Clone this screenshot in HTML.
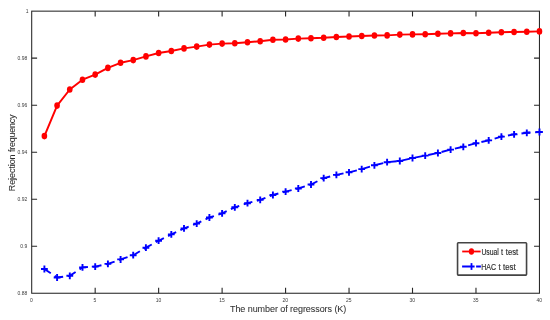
<!DOCTYPE html><html><head><meta charset="utf-8"><title>plot</title>
<style>html,body{margin:0;padding:0;background:#fff}svg{display:block}text{font-family:"Liberation Sans",sans-serif;fill:#3a3a3a}</style></head><body>
<svg width="550" height="320" viewBox="0 0 550 320">
<rect width="550" height="320" fill="#fff"/>
<rect x="31.70" y="11.15" width="507.75" height="282.10" fill="none" stroke="#262626" stroke-width="1.05"/>
<path d="M95.17 293.25v-5.4M95.17 11.15v5.4M158.64 293.25v-5.4M158.64 11.15v5.4M222.11 293.25v-5.4M222.11 11.15v5.4M285.58 293.25v-5.4M285.58 11.15v5.4M349.04 293.25v-5.4M349.04 11.15v5.4M412.51 293.25v-5.4M412.51 11.15v5.4M475.98 293.25v-5.4M475.98 11.15v5.4M31.70 58.17h5.4M539.45 58.17h-5.4M31.70 105.18h5.4M539.45 105.18h-5.4M31.70 152.20h5.4M539.45 152.20h-5.4M31.70 199.22h5.4M539.45 199.22h-5.4M31.70 246.23h5.4M539.45 246.23h-5.4" stroke="#262626" stroke-width="1.1" fill="none"/>
<g font-size="5" style="fill:#262626">
<text transform="translate(31.50 301.9) scale(1 1.12)" text-anchor="middle">0</text>
<text transform="translate(94.97 301.9) scale(1 1.12)" text-anchor="middle">5</text>
<text transform="translate(158.44 301.9) scale(1 1.12)" text-anchor="middle">10</text>
<text transform="translate(221.91 301.9) scale(1 1.12)" text-anchor="middle">15</text>
<text transform="translate(285.38 301.9) scale(1 1.12)" text-anchor="middle">20</text>
<text transform="translate(348.84 301.9) scale(1 1.12)" text-anchor="middle">25</text>
<text transform="translate(412.31 301.9) scale(1 1.12)" text-anchor="middle">30</text>
<text transform="translate(475.78 301.9) scale(1 1.12)" text-anchor="middle">35</text>
<text transform="translate(539.25 301.9) scale(1 1.12)" text-anchor="middle">40</text>
<text transform="translate(28.5 13.10) scale(1 1.12)" text-anchor="end">1</text>
<text transform="translate(27.3 60.12) scale(1 1.12)" text-anchor="end">0.98</text>
<text transform="translate(27.3 107.13) scale(1 1.12)" text-anchor="end">0.96</text>
<text transform="translate(27.3 154.15) scale(1 1.12)" text-anchor="end">0.94</text>
<text transform="translate(27.3 201.17) scale(1 1.12)" text-anchor="end">0.92</text>
<text transform="translate(27.3 248.18) scale(1 1.12)" text-anchor="end">0.9</text>
<text transform="translate(27.3 295.20) scale(1 1.12)" text-anchor="end">0.88</text>
</g>
<text x="288.1" y="312.05" font-size="9" style="fill:#303030;stroke:#303030;stroke-width:0.05px" text-anchor="middle" textLength="116.3" lengthAdjust="spacing">The number of regressors (K)</text>
<text transform="translate(14.8 191.2) rotate(-90)" font-size="9" style="fill:#303030;stroke:#303030;stroke-width:0.05px" lengthAdjust="spacing" textLength="36.8">Rejection</text>
<text transform="translate(14.8 152.0) rotate(-90)" font-size="9" style="fill:#303030;stroke:#303030;stroke-width:0.05px" lengthAdjust="spacing" textLength="37.5">frequency</text>
<polyline points="44.39,136.1 57.09,105.6 69.78,89.5 82.48,79.7 95.17,74.6 107.86,67.9 120.56,62.8 133.25,60.1 145.94,56.4 158.64,53.0 171.33,51.0 184.03,48.4 196.72,46.6 209.41,44.6 222.11,43.6 234.80,43.2 247.49,42.2 260.19,41.2 272.88,39.8 285.58,39.5 298.27,38.6 310.96,38.2 323.66,37.8 336.35,37.0 349.04,36.5 361.74,36.0 374.43,35.5 387.13,35.4 399.82,34.6 412.51,34.4 425.21,34.2 437.90,33.8 450.59,33.4 463.29,33.0 475.98,33.2 488.68,32.8 501.37,32.2 514.06,32.0 526.76,31.8 539.45,31.4" fill="none" stroke="#ff0000" stroke-width="1.95" stroke-linejoin="round"/>
<g fill="#ff0000">
<ellipse cx="44.39" cy="136.1" rx="2.8" ry="3.3"/>
<ellipse cx="57.09" cy="105.6" rx="2.8" ry="3.3"/>
<ellipse cx="69.78" cy="89.5" rx="2.8" ry="3.3"/>
<ellipse cx="82.48" cy="79.7" rx="2.8" ry="3.3"/>
<ellipse cx="95.17" cy="74.6" rx="2.8" ry="3.3"/>
<ellipse cx="107.86" cy="67.9" rx="2.8" ry="3.3"/>
<ellipse cx="120.56" cy="62.8" rx="2.8" ry="3.3"/>
<ellipse cx="133.25" cy="60.1" rx="2.8" ry="3.3"/>
<ellipse cx="145.94" cy="56.4" rx="2.8" ry="3.3"/>
<ellipse cx="158.64" cy="53.0" rx="2.8" ry="3.3"/>
<ellipse cx="171.33" cy="51.0" rx="2.8" ry="3.3"/>
<ellipse cx="184.03" cy="48.4" rx="2.8" ry="3.3"/>
<ellipse cx="196.72" cy="46.6" rx="2.8" ry="3.3"/>
<ellipse cx="209.41" cy="44.6" rx="2.8" ry="3.3"/>
<ellipse cx="222.11" cy="43.6" rx="2.8" ry="3.3"/>
<ellipse cx="234.80" cy="43.2" rx="2.8" ry="3.3"/>
<ellipse cx="247.49" cy="42.2" rx="2.8" ry="3.3"/>
<ellipse cx="260.19" cy="41.2" rx="2.8" ry="3.3"/>
<ellipse cx="272.88" cy="39.8" rx="2.8" ry="3.3"/>
<ellipse cx="285.58" cy="39.5" rx="2.8" ry="3.3"/>
<ellipse cx="298.27" cy="38.6" rx="2.8" ry="3.3"/>
<ellipse cx="310.96" cy="38.2" rx="2.8" ry="3.3"/>
<ellipse cx="323.66" cy="37.8" rx="2.8" ry="3.3"/>
<ellipse cx="336.35" cy="37.0" rx="2.8" ry="3.3"/>
<ellipse cx="349.04" cy="36.5" rx="2.8" ry="3.3"/>
<ellipse cx="361.74" cy="36.0" rx="2.8" ry="3.3"/>
<ellipse cx="374.43" cy="35.5" rx="2.8" ry="3.3"/>
<ellipse cx="387.13" cy="35.4" rx="2.8" ry="3.3"/>
<ellipse cx="399.82" cy="34.6" rx="2.8" ry="3.3"/>
<ellipse cx="412.51" cy="34.4" rx="2.8" ry="3.3"/>
<ellipse cx="425.21" cy="34.2" rx="2.8" ry="3.3"/>
<ellipse cx="437.90" cy="33.8" rx="2.8" ry="3.3"/>
<ellipse cx="450.59" cy="33.4" rx="2.8" ry="3.3"/>
<ellipse cx="463.29" cy="33.0" rx="2.8" ry="3.3"/>
<ellipse cx="475.98" cy="33.2" rx="2.8" ry="3.3"/>
<ellipse cx="488.68" cy="32.8" rx="2.8" ry="3.3"/>
<ellipse cx="501.37" cy="32.2" rx="2.8" ry="3.3"/>
<ellipse cx="514.06" cy="32.0" rx="2.8" ry="3.3"/>
<ellipse cx="526.76" cy="31.8" rx="2.8" ry="3.3"/>
<ellipse cx="539.45" cy="31.4" rx="2.8" ry="3.3"/>
</g>
<polyline points="44.39,269.00 57.09,277.50 69.78,275.80 82.48,267.40 95.17,266.60 107.86,263.90 120.56,259.45 133.25,255.20 145.94,247.70 158.64,240.75 171.33,234.40 184.03,228.40 196.72,223.60 209.41,217.50 222.11,213.40 234.80,207.30 247.49,203.15 260.19,199.90 272.88,195.00 285.58,191.55 298.27,188.50 310.96,184.50 323.66,178.10 336.35,174.90 349.04,172.30 361.74,169.05 374.43,165.30 387.13,162.20 399.82,161.00 412.51,158.00 425.21,155.60 437.90,153.00 450.59,149.60 463.29,146.80 475.98,143.20 488.68,140.40 501.37,136.60 514.06,134.40 526.76,132.80 539.45,132.00" fill="none" stroke="#0000ff" stroke-width="1.9" stroke-dasharray="9 4.69" stroke-dashoffset="1.3"/>
<path d="M41.0 269.0h6.8M44.4 265.6v6.8M53.7 277.5h6.8M57.1 274.1v6.8M66.4 275.8h6.8M69.8 272.4v6.8M79.1 267.4h6.8M82.5 264.0v6.8M91.8 266.6h6.8M95.2 263.2v6.8M104.5 263.9h6.8M107.9 260.5v6.8M117.2 259.4h6.8M120.6 256.1v6.8M129.8 255.2h6.8M133.2 251.8v6.8M142.5 247.7h6.8M145.9 244.3v6.8M155.2 240.8h6.8M158.6 237.3v6.8M167.9 234.4h6.8M171.3 231.0v6.8M180.6 228.4h6.8M184.0 225.0v6.8M193.3 223.6h6.8M196.7 220.2v6.8M206.0 217.5h6.8M209.4 214.1v6.8M218.7 213.4h6.8M222.1 210.0v6.8M231.4 207.3h6.8M234.8 203.9v6.8M244.1 203.2h6.8M247.5 199.8v6.8M256.8 199.9h6.8M260.2 196.5v6.8M269.5 195.0h6.8M272.9 191.6v6.8M282.2 191.6h6.8M285.6 188.2v6.8M294.9 188.5h6.8M298.3 185.1v6.8M307.6 184.5h6.8M311.0 181.1v6.8M320.3 178.1h6.8M323.7 174.7v6.8M333.0 174.9h6.8M336.4 171.5v6.8M345.6 172.3h6.8M349.0 168.9v6.8M358.3 169.1h6.8M361.7 165.7v6.8M371.0 165.3h6.8M374.4 161.9v6.8M383.7 162.2h6.8M387.1 158.8v6.8M396.4 161.0h6.8M399.8 157.6v6.8M409.1 158.0h6.8M412.5 154.6v6.8M421.8 155.6h6.8M425.2 152.2v6.8M434.5 153.0h6.8M437.9 149.6v6.8M447.2 149.6h6.8M450.6 146.2v6.8M459.9 146.8h6.8M463.3 143.4v6.8M472.6 143.2h6.8M476.0 139.8v6.8M485.3 140.4h6.8M488.7 137.0v6.8M498.0 136.6h6.8M501.4 133.2v6.8M510.7 134.4h6.8M514.1 131.0v6.8M523.4 132.8h6.8M526.8 129.4v6.8M536.1 132.0h6.8M539.5 128.6v6.8" stroke="#0000ff" stroke-width="1.9" fill="none"/>
<rect x="457.55" y="242.8" width="69" height="32.3" rx="0.8" fill="#fff" stroke="#444" stroke-width="1.6"/>
<path d="M462.2 251.5H480.6" stroke="#ff0000" stroke-width="1.8"/><ellipse cx="471.45" cy="251.5" rx="2.6" ry="3.2" fill="#ff0000"/>
<path d="M462.1 266.45H480.9" stroke="#0000ff" stroke-width="1.9" stroke-dasharray="12.5 1.5"/><path d="M471.5 263.1v6.8" stroke="#0000ff" stroke-width="1.8"/>
<g style="fill:#1a1a1a;stroke:#1a1a1a;stroke-width:0.15px">
<text transform="translate(481.4 254.6) scale(1 1.1)" font-size="7.4" textLength="17.4" lengthAdjust="spacingAndGlyphs">Usual</text><text transform="translate(501.1 254.6) scale(1 1.1)" font-size="7.4" textLength="2.1" lengthAdjust="spacingAndGlyphs">t</text><text transform="translate(505.8 254.6) scale(1 1.1)" font-size="7.4" textLength="12.4" lengthAdjust="spacingAndGlyphs">test</text>
<text transform="translate(481.3 269.6) scale(1 1.1)" font-size="7.4" textLength="14.8" lengthAdjust="spacingAndGlyphs">HAC</text><text transform="translate(498.5 269.6) scale(1 1.1)" font-size="7.4" textLength="2.1" lengthAdjust="spacingAndGlyphs">t</text><text transform="translate(503.1 269.6) scale(1 1.1)" font-size="7.4" textLength="12.6" lengthAdjust="spacingAndGlyphs">test</text>
</g>
</svg></body></html>
